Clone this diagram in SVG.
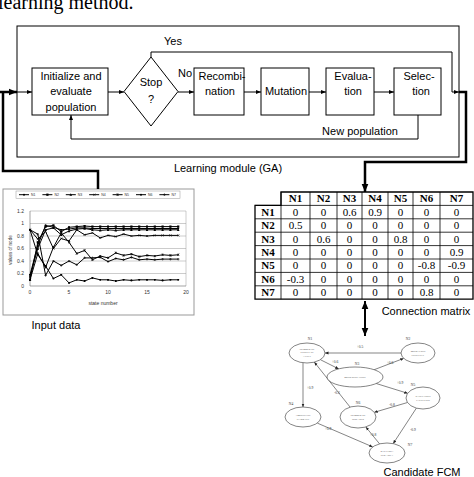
<svg xmlns="http://www.w3.org/2000/svg" width="474" height="477" viewBox="0 0 474 477">
<style>
.box{fill:#fff;stroke:#000;stroke-width:1}
.ln{fill:none;stroke:#000;stroke-width:1}
.thick{fill:none;stroke:#000;stroke-width:2.5}
.t{font-family:"Liberation Sans",Arial,sans-serif;font-size:11px;text-anchor:middle;fill:#000}
.tb{font-family:"Liberation Serif","Times New Roman",serif;font-size:11px;font-weight:bold;text-anchor:middle}
.tv{font-family:"Liberation Serif","Times New Roman",serif;font-size:11px;text-anchor:middle}
.tg{fill:none;stroke:#000;stroke-width:0.8}
.ct{font-family:"Liberation Sans",Arial,sans-serif;font-size:5px;fill:#333}
.ser{fill:none;stroke:#000;stroke-width:1}
.grid{stroke:#999;stroke-width:0.5}
.fe{fill:none;stroke:#333;stroke-width:0.6}
.fn{fill:#fff;stroke:#333;stroke-width:0.6}
.ft{font-family:"Liberation Serif","Times New Roman",serif;font-size:2.6px;text-anchor:middle;fill:#333}
.fl{font-family:"Liberation Serif","Times New Roman",serif;font-size:3.6px;text-anchor:middle;fill:#333}
</style>
<defs>
<marker id="ah" viewBox="0 0 6 6" refX="6" refY="3" markerWidth="5" markerHeight="5" markerUnits="userSpaceOnUse" orient="auto"><path d="M0,0.6 L6,3 L0,5.4z" fill="#000"/></marker>
<marker id="ahT" viewBox="0 0 6 6" refX="6" refY="3" markerWidth="8" markerHeight="8" markerUnits="userSpaceOnUse" orient="auto"><path d="M0,0.5 L6,3 L0,5.5z" fill="#000"/></marker>
<marker id="ahTs" viewBox="0 0 6 6" refX="0" refY="3" markerWidth="8" markerHeight="8" markerUnits="userSpaceOnUse" orient="auto"><path d="M6,0.5 L0,3 L6,5.5z" fill="#000"/></marker>
<marker id="ahF" viewBox="0 0 6 6" refX="6" refY="3" markerWidth="3.5" markerHeight="3.5" markerUnits="userSpaceOnUse" orient="auto"><path d="M0,0.5 L6,3 L0,5.5z" fill="#222"/></marker>
<marker id="mc" viewBox="-2 -2 4 4" refX="0" refY="0" markerWidth="2.6" markerHeight="2.6" markerUnits="userSpaceOnUse"><circle r="1.6" fill="#000"/></marker>
<marker id="ms" viewBox="-2 -2 4 4" refX="0" refY="0" markerWidth="2.8" markerHeight="2.8" markerUnits="userSpaceOnUse"><rect x="-1.6" y="-1.6" width="3.2" height="3.2" fill="#000"/></marker>
<marker id="mt" viewBox="-2 -2 4 4" refX="0" refY="0" markerWidth="3" markerHeight="3" markerUnits="userSpaceOnUse"><path d="M0,-1.8 L1.8,1.5 L-1.8,1.5z" fill="#000"/></marker>
<marker id="mx" viewBox="-2 -2 4 4" refX="0" refY="0" markerWidth="3" markerHeight="3" markerUnits="userSpaceOnUse"><path d="M-1.5,-1.5 L1.5,1.5 M-1.5,1.5 L1.5,-1.5" stroke="#000" stroke-width="0.8"/></marker>
<marker id="mk" viewBox="-2 -2 4 4" refX="0" refY="0" markerWidth="3" markerHeight="3" markerUnits="userSpaceOnUse"><path d="M-1.5,-1.5 L1.5,1.5 M-1.5,1.5 L1.5,-1.5 M0,-1.8 V1.8" stroke="#000" stroke-width="0.8"/></marker>
<marker id="mp" viewBox="-2 -2 4 4" refX="0" refY="0" markerWidth="3" markerHeight="3" markerUnits="userSpaceOnUse"><path d="M-1.8,0 H1.8 M0,-1.8 V1.8" stroke="#000" stroke-width="0.8"/></marker>
</defs>
<rect width="474" height="477" fill="#fff"/>

<text x="-2" y="9" font-family="Liberation Serif,'Times New Roman',serif" font-size="20">learning method.</text>

<g id="learning-module">
<rect x="17" y="26" width="442" height="131" class="box"/>
<text x="228" y="172" class="t">Learning module (GA)</text>
</g>
<g id="init">
<rect x="32" y="68" width="76" height="47" class="box"/>
<text x="71" y="80" class="t">Initialize and</text>
<text x="71" y="95" class="t">evaluate</text>
<text x="71" y="111" class="t">population</text>
</g>
<g id="stop">
<path d="M151,57 L178,91.5 L151,126 L124,91.5z" class="box"/>
<text x="151" y="86" class="t">Stop</text>
<text x="151" y="103" class="t">?</text>
</g>
<g id="recomb">
<rect x="194" y="68" width="50" height="47" class="box"/>
<text x="222" y="80" class="t">Recombi-</text>
<text x="220" y="95" class="t">nation</text>
</g>
<g id="mutation">
<rect x="261" y="68" width="48" height="47" class="box"/>
<text x="286" y="95" class="t">Mutation</text>
</g>
<g id="evaluation">
<rect x="326" y="68" width="48" height="47" class="box"/>
<text x="353" y="80" class="t">Evalua-</text>
<text x="353" y="95" class="t">tion</text>
</g>
<g id="selection">
<rect x="394" y="68" width="47" height="47" class="box"/>
<text x="419" y="80" class="t">Selec-</text>
<text x="421" y="95" class="t">tion</text>
</g>

<g id="input-data">
<rect x="3" y="189" width="191" height="126" fill="#fff" stroke="#999" stroke-width="1"/>
<rect x="16" y="191" width="164" height="7.5" fill="#fff" stroke="#999" stroke-width="0.5"/>
<g class="ct">
<path d="M19,194.7 H24 H29" class="ser" marker-mid="url(#mc)"/>
<text x="31" y="196" font-size="3.5">N1</text>
<path d="M42.4,194.7 H47.4 H52.4" class="ser" marker-mid="url(#ms)"/>
<text x="54.4" y="196" font-size="3.5">N2</text>
<path d="M65.8,194.7 H70.8 H75.8" class="ser" marker-mid="url(#mt)"/>
<text x="77.8" y="196" font-size="3.5">N3</text>
<path d="M89.2,194.7 H94.2 H99.2" class="ser" marker-mid="url(#mx)"/>
<text x="101.2" y="196" font-size="3.5">N4</text>
<path d="M112.6,194.7 H117.6 H122.6" class="ser" marker-mid="url(#mk)"/>
<text x="124.6" y="196" font-size="3.5">N5</text>
<path d="M136,194.7 H141 H146" class="ser" marker-mid="url(#mc)"/>
<text x="148" y="196" font-size="3.5">N6</text>
<path d="M159.4,194.7 H164.4 H169.4" class="ser" marker-mid="url(#mp)"/>
<text x="171.4" y="196" font-size="3.5">N7</text>
</g>
<g>
<line x1="30" y1="211" x2="186" y2="211" class="grid"/>
<line x1="30" y1="223.5" x2="186" y2="223.5" class="grid"/>
<line x1="30" y1="236" x2="186" y2="236" class="grid"/>
<line x1="30" y1="248.5" x2="186" y2="248.5" class="grid"/>
<line x1="30" y1="261" x2="186" y2="261" class="grid"/>
<line x1="30" y1="273.5" x2="186" y2="273.5" class="grid"/>
<line x1="186" y1="211" x2="186" y2="286" class="grid"/>
<line x1="30" y1="286" x2="186" y2="286" stroke="#666" stroke-width="0.6"/>
<line x1="30" y1="211" x2="30" y2="286" stroke="#666" stroke-width="0.6"/>
</g>
<g class="ct" text-anchor="end">
<text x="24" y="212.7">1.2</text>
<text x="24" y="225.2">1</text>
<text x="24" y="237.7">0.8</text>
<text x="24" y="250.2">0.6</text>
<text x="24" y="262.7">0.4</text>
<text x="24" y="275.2">0.2</text>
<text x="24" y="287.7">0</text>
</g>
<g class="ct" text-anchor="middle">
<text x="30" y="294">0</text>
<text x="69" y="294">5</text>
<text x="108" y="294">10</text>
<text x="147" y="294">15</text>
<text x="186" y="294">20</text>
<text x="103" y="305">state number</text>
<text x="12" y="250" transform="rotate(-90 12 250)" font-size="4.5">values of node</text>
</g>
<g>
<polyline class="ser" marker-start="url(#ms)" marker-mid="url(#ms)" marker-end="url(#ms)" points="30,279.8 37.8,242.3 45.6,226.6 53.4,225.4 61.2,231.6 69,227.3 76.8,226.6 84.6,226 92.4,226.6 100.2,226.6 108,226.6 115.8,226.6 123.6,226.6 131.4,226.6 139.2,226.6 147,226.6 154.8,226.6 162.6,226.6 170.4,226.6 178.2,226.6"/>
<polyline class="ser" marker-start="url(#mc)" marker-mid="url(#mc)" marker-end="url(#mc)" points="30,274.8 37.8,245.4 45.6,225.4 53.4,227.3 61.2,229.8 69,229.1 76.8,227.9 84.6,227.9 92.4,228.5 100.2,228.5 108,228.5 115.8,228.5 123.6,228.5 131.4,228.5 139.2,228.5 147,228.5 154.8,228.5 162.6,228.5 170.4,228.5 178.2,228.5"/>
<polyline class="ser" marker-start="url(#mt)" marker-mid="url(#mt)" marker-end="url(#mt)" points="30,276.6 37.8,248.5 45.6,229.8 53.4,227.9 61.2,234.8 69,231 76.8,229.1 84.6,228.5 92.4,229.8 100.2,230.4 108,229.8 115.8,230.4 123.6,229.8 131.4,229.8 139.2,229.8 147,229.8 154.8,229.8 162.6,229.8 170.4,229.8 178.2,229.8"/>
<polyline class="ser" marker-start="url(#mx)" marker-mid="url(#mx)" marker-end="url(#mx)" points="30,229.8 37.8,239.1 45.6,231.6 53.4,248.5 61.2,238.5 69,241 76.8,229.8 84.6,234.8 92.4,232.9 100.2,237.9 108,235.4 115.8,236.6 123.6,234.1 131.4,236 139.2,235.4 147,236 154.8,235.4 162.6,235.4 170.4,235.4 178.2,235.4"/>
<polyline class="ser" marker-start="url(#mk)" marker-mid="url(#mk)" marker-end="url(#mk)" points="30,279.8 37.8,253.5 45.6,267.3 53.4,247.3 61.2,232.9 69,242.3 76.8,253.5 84.6,250.4 92.4,259.8 100.2,256 108,257.9 115.8,252.9 123.6,255.4 131.4,254.1 139.2,256.6 147,255.4 154.8,256 162.6,254.8 170.4,255.4 178.2,254.8"/>
<polyline class="ser" marker-start="url(#mc)" marker-mid="url(#mc)" marker-end="url(#mc)" points="30,229.8 37.8,254.8 45.6,266 53.4,278.5 61.2,274.8 69,282.9 76.8,279.8 84.6,281 92.4,277.9 100.2,279.8 108,279.8 115.8,281 123.6,279.8 131.4,280.4 139.2,279.8 147,279.8 154.8,279.8 162.6,280.4 170.4,279.8 178.2,279.8"/>
<polyline class="ser" marker-start="url(#mp)" marker-mid="url(#mp)" marker-end="url(#mp)" points="30,229.8 37.8,234.1 45.6,275.4 53.4,261 61.2,265.4 69,261 76.8,264.8 84.6,257.9 92.4,257.9 100.2,257.3 108,261.6 115.8,258.5 123.6,259.8 131.4,257.3 139.2,259.8 147,259.1 154.8,259.8 162.6,259.1 170.4,259.1 178.2,259.1"/>
</g>
<text x="56" y="329" class="t">Input data</text>
</g>

<g id="connection-matrix">
<path d="M281,192 H473 V299.2 H255 V205.4 H281 Z" fill="#fff" stroke="#000" stroke-width="1.3"/>
<g class="tg">
<path d="M281,192 V299.2 M310,192 V299.2 M337,192 V299.2 M362,192 V299.2 M388,192 V299.2 M413,192 V299.2 M440,192 V299.2"/>
<path d="M255,205.4 H473 M255,218.8 H473 M255,232.2 H473 M255,245.6 H473 M255,259 H473 M255,272.4 H473 M255,285.8 H473"/>
</g>
<g class="tb">
<text x="295.5" y="202.4">N1</text><text x="323.5" y="202.4">N2</text><text x="349.5" y="202.4">N3</text><text x="375" y="202.4">N4</text><text x="400.5" y="202.4">N5</text><text x="426.5" y="202.4">N6</text><text x="456.5" y="202.4">N7</text>
<text x="268" y="215.8">N1</text><text x="268" y="229.2">N2</text><text x="268" y="242.6">N3</text><text x="268" y="256">N4</text><text x="268" y="269.4">N5</text><text x="268" y="282.8">N6</text><text x="268" y="296.2">N7</text>
</g>
<g class="tv">
<text x="295.5" y="215.8">0</text><text x="323.5" y="215.8">0</text><text x="349.5" y="215.8">0.6</text><text x="375" y="215.8">0.9</text><text x="400.5" y="215.8">0</text><text x="426.5" y="215.8">0</text><text x="456.5" y="215.8">0</text>
<text x="295.5" y="229.2">0.5</text><text x="323.5" y="229.2">0</text><text x="349.5" y="229.2">0</text><text x="375" y="229.2">0</text><text x="400.5" y="229.2">0</text><text x="426.5" y="229.2">0</text><text x="456.5" y="229.2">0</text>
<text x="295.5" y="242.6">0</text><text x="323.5" y="242.6">0.6</text><text x="349.5" y="242.6">0</text><text x="375" y="242.6">0</text><text x="400.5" y="242.6">0.8</text><text x="426.5" y="242.6">0</text><text x="456.5" y="242.6">0</text>
<text x="295.5" y="256">0</text><text x="323.5" y="256">0</text><text x="349.5" y="256">0</text><text x="375" y="256">0</text><text x="400.5" y="256">0</text><text x="426.5" y="256">0</text><text x="456.5" y="256">0.9</text>
<text x="295.5" y="269.4">0</text><text x="323.5" y="269.4">0</text><text x="349.5" y="269.4">0</text><text x="375" y="269.4">0</text><text x="400.5" y="269.4">0</text><text x="426.5" y="269.4">-0.8</text><text x="456.5" y="269.4">-0.9</text>
<text x="295.5" y="282.8">-0.3</text><text x="323.5" y="282.8">0</text><text x="349.5" y="282.8">0</text><text x="375" y="282.8">0</text><text x="400.5" y="282.8">0</text><text x="426.5" y="282.8">0</text><text x="456.5" y="282.8">0</text>
<text x="295.5" y="296.2">0</text><text x="323.5" y="296.2">0</text><text x="349.5" y="296.2">0</text><text x="375" y="296.2">0</text><text x="400.5" y="296.2">0</text><text x="426.5" y="296.2">0.8</text><text x="456.5" y="296.2">0</text>
</g>
<text x="426" y="315" class="t" font-size="10.5">Connection matrix</text>
</g>

<g id="candidate-fcm">
<g id="fcm-edges">
<line x1="401" y1="353" x2="325" y2="353" class="fe" marker-end="url(#ahF)"/>
<line x1="320.4" y1="359.7" x2="338.7" y2="368.9" class="fe" marker-end="url(#ahF)"/>
<line x1="374.2" y1="369.7" x2="403.7" y2="358.4" class="fe" marker-end="url(#ahF)"/>
<line x1="376.2" y1="383.5" x2="407.7" y2="393.3" class="fe" marker-end="url(#ahF)"/>
<line x1="303" y1="362.8" x2="303" y2="407" class="fe" marker-end="url(#ahF)"/>
<line x1="350.1" y1="407.1" x2="314.3" y2="362.1" class="fe" marker-end="url(#ahF)"/>
<line x1="407.5" y1="402.5" x2="374.3" y2="412.3" class="fe" marker-end="url(#ahF)"/>
<line x1="416.4" y1="408.1" x2="393.2" y2="443.6" class="fe" marker-end="url(#ahF)"/>
<line x1="317.3" y1="423.1" x2="372.7" y2="446.9" class="fe" marker-end="url(#ahF)"/>
<line x1="379.6" y1="443.9" x2="365.9" y2="427.1" class="fe" marker-end="url(#ahF)"/>
<g class="fl">
<text x="360" y="348">+0.5</text>
<text x="335" y="363">+0.6</text>
<text x="390" y="364">+0.6</text>
<text x="400" y="384">+0.9</text>
<text x="310" y="389">+0.9</text>
<text x="337" y="394">-0.3</text>
<text x="392" y="406">-0.8</text>
<text x="413" y="431">-0.9</text>
<text x="328" y="430">+0.9</text>
<text x="373" y="436">+0.8</text>
</g>
</g>
<g id="fcm-n1"><ellipse cx="307" cy="353" rx="18" ry="10" class="fn"/><text x="310" y="340" class="fl">N1</text><text x="307" y="349.5" class="ft">NUMBER OF</text><text x="307" y="353" class="ft">PEOPLE IN</text><text x="307" y="356.5" class="ft">A CITY</text></g>
<g id="fcm-n2"><ellipse cx="418" cy="353" rx="17" ry="10" class="fn"/><text x="408" y="340" class="fl">N2</text><text x="418" y="352" class="ft">MIGRATION</text><text x="418" y="355.5" class="ft">INTO CITY</text></g>
<g id="fcm-n3"><ellipse cx="355" cy="377" rx="28" ry="10" class="fn"/><text x="357" y="365" class="fl">N3</text><text x="355" y="378" class="ft">MODERNIZATION</text></g>
<g id="fcm-n5"><ellipse cx="423" cy="398" rx="17" ry="11" class="fn"/><text x="413" y="386" class="fl">N5</text><text x="423" y="397" class="ft">SANITATION</text><text x="423" y="400.5" class="ft">FACILITIES</text></g>
<g id="fcm-n4"><ellipse cx="303" cy="417" rx="18" ry="10" class="fn"/><text x="291" y="405" class="fl">N4</text><text x="303" y="416" class="ft">AMOUNT OF</text><text x="303" y="419.5" class="ft">GARBAGE</text></g>
<g id="fcm-n6"><ellipse cx="358" cy="417" rx="18" ry="11" class="fn"/><text x="358" y="404" class="fl">N6</text><text x="358" y="416" class="ft">NUMBER OF</text><text x="358" y="419.5" class="ft">DISEASES</text></g>
<g id="fcm-n7"><ellipse cx="387" cy="453" rx="18" ry="10" class="fn"/><text x="410" y="446" class="fl">N7</text><text x="387" y="452" class="ft">BACTERIA</text><text x="387" y="455.5" class="ft">PER AREA</text></g>
<text x="422" y="476" class="t">Candidate FCM</text>
</g>

<g id="connectors">
<path d="M108,92 H124" class="ln" marker-end="url(#ah)"/>
<path d="M178,92 H194" class="ln" marker-end="url(#ah)"/>
<path d="M244,92 H261" class="ln" marker-end="url(#ah)"/>
<path d="M309,92 H326" class="ln" marker-end="url(#ah)"/>
<path d="M374,92 H394" class="ln" marker-end="url(#ah)"/>
<path d="M17,92 H32" class="ln" marker-end="url(#ah)"/>
<path d="M151,57 V52 H452 V92 H459" class="ln" marker-end="url(#ah)"/>
<path d="M418,115 V139 H71 V115" class="ln" marker-end="url(#ah)"/>
<text x="173" y="45" class="t">Yes</text>
<text x="185" y="77" class="t" font-size="10.5">No</text>
<text x="360" y="135" class="t">New population</text>
<path d="M0,92 H17" class="thick" marker-end="url(#ahT)"/>
<path d="M3,92 V171 H98 V189" class="thick"/>
<path d="M459,92 H466 V162 H365 V192" class="thick" marker-end="url(#ahT)"/>
<path d="M365,301 V336" stroke="#000" stroke-width="2" fill="none" marker-start="url(#ahTs)" marker-end="url(#ahT)"/>
</g>
</svg>
